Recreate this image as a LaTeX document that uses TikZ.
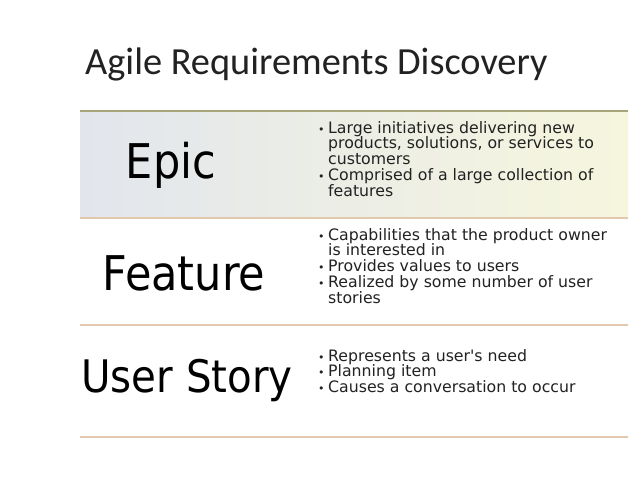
\documentclass[tikz,border=0pt]{standalone}
\usepackage{fontspec}
\setmainfont{Carlito}
\newfontfamily\bodyf{DejaVu Sans Condensed}
\newfontfamily\bulf{DejaVu Sans}
\definecolor{bandL}{HTML}{E2E6EC}
\definecolor{bandR}{HTML}{F6F6DE}
\definecolor{topline}{HTML}{A8A47C}
\definecolor{sepline}{HTML}{E2C8AC}
\definecolor{txt}{HTML}{222222}
\begin{document}
\begin{tikzpicture}[x=1bp,y=-1bp,
  big/.style={font=\bodyf\fontsize{48}{50}\selectfont,text=black,inner sep=0},
  pts/.style={font=\bulf\fontsize{15.8}{15.8}\selectfont,text=txt,anchor=north west,inner sep=0,align=left},
  sep/.style={sepline,line width=2bp}]
\useasboundingbox (0,0) rectangle (638,479);
\fill[white] (0,0) rectangle (638,479);
\shade[left color=bandL,right color=bandR] (80,111) rectangle (628,218);
\draw[topline,line width=2bp] (80,111) -- (628,111);
\draw[sep] (80,218) -- (628,218);
\draw[sep] (80,325) -- (628,325);
\draw[sep] (80,437) -- (628,437);
\node[anchor=base west,inner sep=0,font=\fontsize{38.5}{40}\selectfont,text=txt] (title) at (85,75) {Agile Requirements Discovery};
\node[big] (epic) at (171,165) {Epic};
\node[big] (feature) at (184,273) {Feature};
\node[big,font=\bodyf\fontsize{45}{50}\selectfont] (story) at (187,381) {User Story};
\def\b{\makebox[10bp][l]{\fontsize{11}{11}\selectfont\textbullet}}
\def\n{\hspace*{10bp}}
\node[pts] (p1) at (318,121) {\b Large initiatives delivering new\\ \n products, solutions, or services to\\ \n customers\\ \b Comprised of a large collection of\\ \n features};
\node[pts] (p2) at (318,228) {\b Capabilities that the product owner\\ \n is interested in\\ \b Provides values to users\\ \b Realized by some number of user\\ \n stories};
\node[pts] (p3) at (318,349) {\b Represents a user's need\\ \b Planning item\\ \b Causes a conversation to occur};
\end{tikzpicture}
\end{document}
